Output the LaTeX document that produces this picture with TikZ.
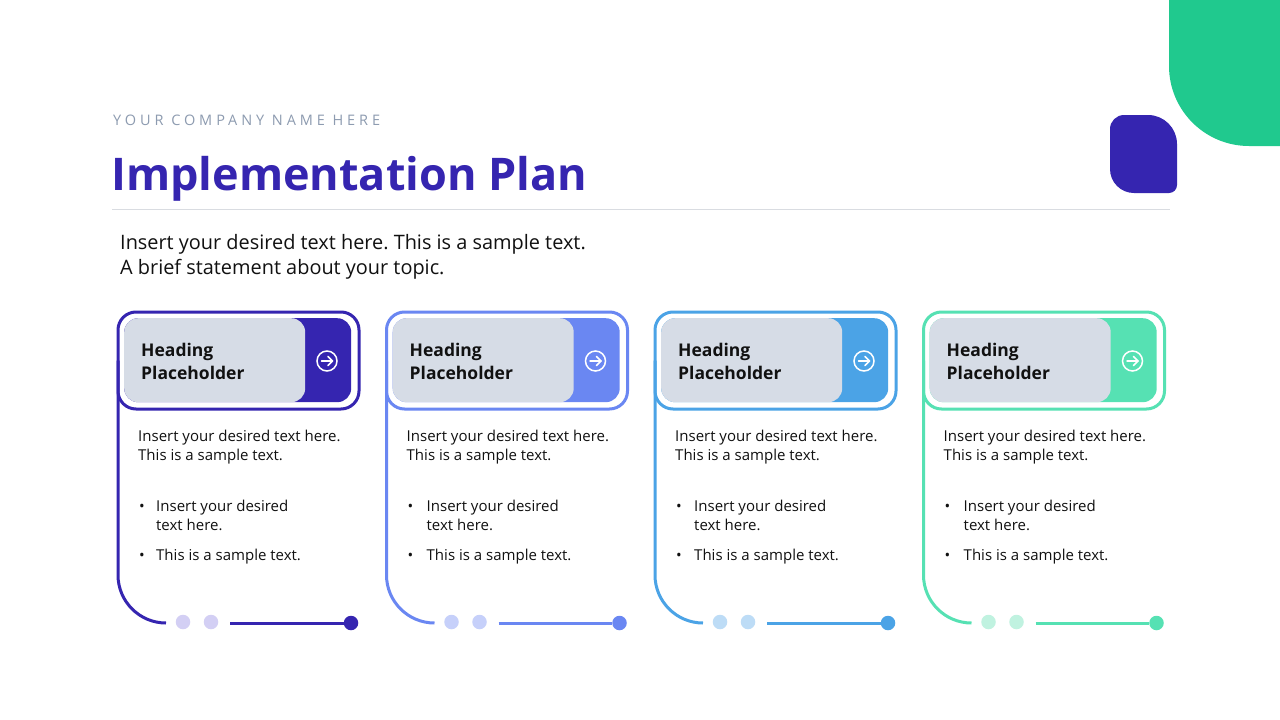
\documentclass[tikz,border=0pt]{standalone}
\usepackage{fontspec}
\setmainfont{Open Sans}
\frenchspacing
\definecolor{cA}{HTML}{3525B0}
\definecolor{cB}{HTML}{6A87F2}
\definecolor{cC}{HTML}{4BA3E6}
\definecolor{cD}{HTML}{56E1B3}
\definecolor{lA}{HTML}{D3CFF4}
\definecolor{lB}{HTML}{C6D0FA}
\definecolor{lC}{HTML}{BDDCF6}
\definecolor{lD}{HTML}{C0F2E0}
\definecolor{hdrgray}{HTML}{D6DCE6}
\definecolor{greenblob}{HTML}{20C98E}
\definecolor{compgray}{HTML}{8D9BB0}
\definecolor{rulegray}{HTML}{D9DCE1}
\definecolor{txt}{HTML}{111111}
\begin{document}
\begin{tikzpicture}[x=1pt,y=-1pt,
  txtnode/.style={inner sep=0pt, anchor=base west, text=txt},
  bodyfont/.style={font=\fontsize{15}{19}\selectfont},
  headfont/.style={font=\fontsize{17.5}{23}\selectfont\bfseries},
  frame/.style={line width=3pt, rounded corners=18pt, minimum width=241pt, minimum height=97pt, anchor=north west, inner sep=0pt, outer sep=0pt},
  hdr/.style={rounded corners=14pt, minimum height=84pt, anchor=north west, inner sep=0pt},
  dot/.style={circle, minimum size=14.5pt, inner sep=0pt},
]
\useasboundingbox (0,0) rectangle (1280,720);
\fill[white] (0,0) rectangle (1280,720);

% decorative shapes
\fill[greenblob] (1169,0) -- (1169,66) .. controls (1169,110.2) and (1204.8,146) .. (1249,146) -- (1280,146) -- (1280,0) -- cycle;
\fill[cA] (1124,115) -- (1148,115) .. controls (1164,115) and (1177,128) .. (1177,144)
  -- (1177,185) .. controls (1177,189.4) and (1173.4,193) .. (1169,193)
  -- (1134,193) .. controls (1120.7,193) and (1110,182.3) .. (1110,169)
  -- (1110,129) .. controls (1110,121.3) and (1116.3,115) .. (1124,115) -- cycle;

% header texts
\node[inner sep=0pt, anchor=base west, text=compgray, font=\fontsize{14.5}{16}\selectfont\addfontfeature{LetterSpace=27}] (company) at (113,125) {YOUR COMPANY NAME HERE};
\node[inner sep=0pt, anchor=base west, text=cA, font=\fontsize{45}{54}\selectfont\bfseries] (title) at (111,190) {Implementation Plan};
\coordinate (ruleL) at (112,209);
\coordinate (ruleR) at (1170,209);
\draw[rulegray, line width=1pt] (ruleL) -- (ruleR);
\node[txtnode, font=\fontsize{19.9}{25}\selectfont] (desc1) at (120,249) {Insert your desired text here. This is a sample text.};
\node[txtnode, font=\fontsize{19.9}{25}\selectfont] (desc2) at (120,274) {A brief statement about your topic.};

% cards
\foreach \i/\dx/\acc/\lite/\tx in {1/0/cA/lA/0, 2/268.5/cB/lB/2, 3/537/cC/lC/1, 4/805.5/cD/lD/2}{
\begin{scope}[xshift=\dx]
  \node[hdr, fill=\acc, minimum width=227pt] (hb\i) at (124,318) {};
  \node[hdr, fill=hdrgray, minimum width=181pt] (hg\i) at (124,318) {};
  \node[frame, draw=\acc] (fr\i) at (118,312) {};
  \coordinate (bend\i) at (118,575);
  \coordinate (lend\i) at (166,623);
  \draw[\acc, line width=3pt] (fr\i.west) -- (bend\i) .. controls (118,601.5) and (139.5,623) .. (lend\i);
  \node[circle, draw=white, line width=1.5pt, minimum size=20pt, inner sep=0pt] (ar\i) at (327,361) {};
  \draw[white, line width=1.5pt, line cap=round, line join=round]
     ([xshift=-5.5pt]ar\i.center) -- ([xshift=5.5pt]ar\i.center);
  \draw[white, line width=1.5pt, line cap=round, line join=round]
     ([xshift=1pt,yshift=4.5pt]ar\i.center) -- ([xshift=5.5pt]ar\i.center) -- ([xshift=1pt,yshift=-4.5pt]ar\i.center);
  \node[txtnode, headfont] (hta\i) at (141,356) {Heading};
  \node[txtnode, headfont] (htb\i) at (141,379) {Placeholder};
  \node[txtnode, bodyfont] (ba\i) at (138,441) {Insert your desired text here.};
  \node[txtnode, bodyfont] (bb\i) at (138,460) {This is a sample text.};
  \node[txtnode, bodyfont] (bu1\i) at (139,511) {•};
  \node[txtnode, bodyfont] (bl1\i) at (156+\tx,511) {Insert your desired};
  \node[txtnode, bodyfont] (bl2\i) at (156+\tx,530) {text here.};
  \node[txtnode, bodyfont] (bu2\i) at (139,560) {•};
  \node[txtnode, bodyfont] (bl3\i) at (156+\tx,560) {This is a sample text.};
  \node[dot, fill=\lite] (da\i) at (183,622) {};
  \node[dot, fill=\lite] (db\i) at (211,622) {};
  \coordinate (ls\i) at (230,623);
  \node[dot, fill=\acc] (de\i) at (351,623) {};
  \draw[\acc, line width=3pt] (ls\i) -- (de\i);
\end{scope}
}
\end{tikzpicture}
\end{document}
